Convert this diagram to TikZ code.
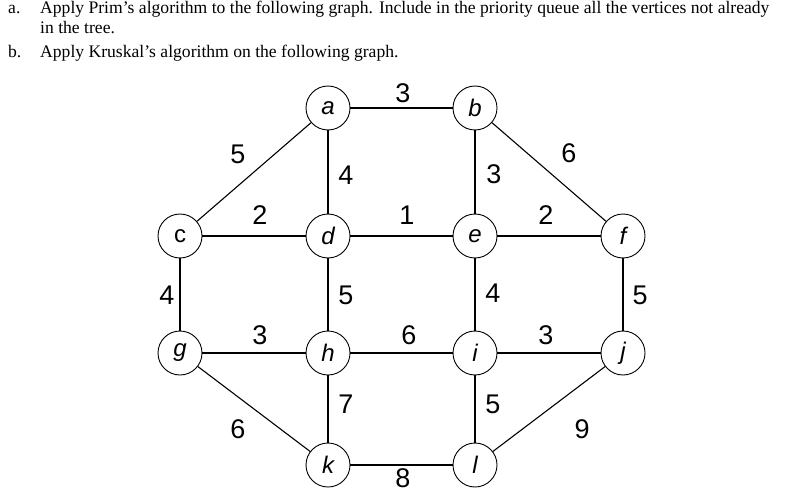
\documentclass[tikz,border=0pt]{standalone}
\usepackage{fontspec}
\setmainfont{Liberation Serif}
\setsansfont{Liberation Sans}
\begin{document}
\begin{tikzpicture}[x=1pt,y=-1pt,
  vtx/.style={circle,draw,line width=0.9pt,minimum size=44pt,inner sep=0pt,font=\sffamily\itshape\fontsize{24}{24}\selectfont},
  edge/.style={line width=1.1pt},
  wt/.style={font=\sffamily\fontsize{27}{27}\selectfont},
  txt/.style={anchor=base west,inner sep=0pt,font=\fontsize{17.6}{17.6}\selectfont}]
\useasboundingbox (0,0) rectangle (792,492);
\node[txt] (la) at (8,14) {a.};
\node[txt] (l1) at (40,14) {Apply Prim’s algorithm to the following graph. Include in the priority queue all the vertices not already};
\node[txt] (l2) at (40,34) {in the tree.};
\node[txt] (lb) at (8,58) {b.};
\node[txt] (l3) at (40,58) {Apply Kruskal’s algorithm on the following graph.};
\node[vtx] (a) at (328,108) {a};
\node[vtx] (b) at (475,108) {b};
\node[vtx] (c) at (180,236) {\upshape c};
\node[vtx] (d) at (328,236) {d};
\node[vtx] (e) at (475,236) {e};
\node[vtx] (f) at (623,236) {f};
\node[vtx] (g) at (180,353) {g};
\node[vtx] (h) at (328,353) {h};
\node[vtx] (i) at (475,353) {i};
\node[vtx] (j) at (623,353) {j};
\node[vtx] (k) at (328,465) {k};
\node[vtx] (l) at (475,465) {l};
\draw[edge] (a)--(b); \draw[edge] (a)--(c); \draw[edge] (a)--(d);
\draw[edge] (b)--(e); \draw[edge] (b)--(f);
\draw[edge] (c)--(d); \draw[edge] (d)--(e); \draw[edge] (e)--(f);
\draw[edge] (c)--(g); \draw[edge] (d)--(h); \draw[edge] (e)--(i); \draw[edge] (f)--(j);
\draw[edge] (g)--(h); \draw[edge] (h)--(i); \draw[edge] (i)--(j);
\draw[edge] (g)--(k); \draw[edge] (h)--(k); \draw[edge] (i)--(l); \draw[edge] (j)--(l);
\draw[edge] (k)--(l);
\node[wt] (w1) at (403,93) {3};
\node[wt] (w2) at (238,154) {5};
\node[wt] (w3) at (346,175) {4};
\node[wt] (w4) at (494,174) {3};
\node[wt] (w5) at (569,153) {6};
\node[wt] (w6) at (260,215) {2};
\node[wt] (w7) at (407,215) {1};
\node[wt] (w8) at (546,215) {2};
\node[wt] (w9) at (167,295) {4};
\node[wt] (w10) at (346,295) {5};
\node[wt] (w11) at (493,293) {4};
\node[wt] (w12) at (640,295) {5};
\node[wt] (w13) at (260,335) {3};
\node[wt] (w14) at (409,335) {6};
\node[wt] (w15) at (546,335) {3};
\node[wt] (w16) at (346,404) {7};
\node[wt] (w17) at (493,404) {5};
\node[wt] (w18) at (238,429) {6};
\node[wt] (w19) at (582,429) {9};
\node[wt] (w20) at (403,478) {8};
\end{tikzpicture}
\end{document}
